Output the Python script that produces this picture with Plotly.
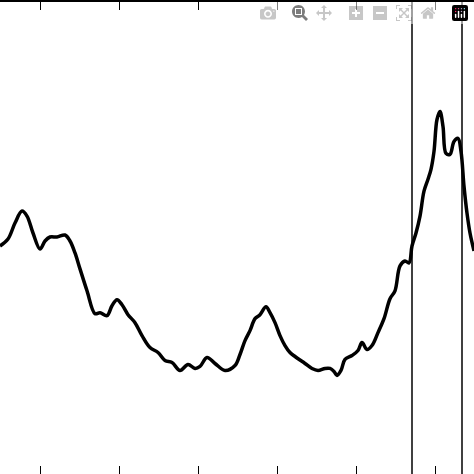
import plotly.graph_objects as go

xs = [0,8,15,22,27,33,40,45,50,57,65,70,75,80,87,95,100,107,112,117,122,128,135,142,150,158,165,172,180,188,195,200,207,215,225,235,240,245,250,255,260,266,270,275,280,285,290,295,305,312,318,325,330,334,337,341,345,352,358,362,367,372,378,384,390,395,400,405,409,412,416,420,424,428,431,434,437,440,443,446,450,454,458,461,464,467,470,474]
ys = [245,238,222,210,215,232,248,240,236,236,234,240,252,268,290,313,312,315,305,299,304,314,322,335,347,352,360,362,370,364,368,366,357,363,370,365,354,340,330,318,314,306,312,322,335,345,352,356,363,368,370,368,368,371,375,370,359,355,350,342,349,345,332,318,298,290,265,260,262,245,232,215,190,178,168,150,118,110,125,152,153,140,137,150,185,212,232,250]
vlines = [412, 462]

fig = go.Figure(go.Scatter(x=xs, y=[474-v for v in ys], mode="lines",
                           line=dict(color="black", width=3.5, shape="spline")))
for v in vlines:
    fig.add_vline(x=v, line=dict(color="black", width=1.5))
ax = dict(showgrid=False, zeroline=False, showticklabels=False)
fig.update_xaxes(range=[0,474], tickvals=[40,119,198,277,356,435], ticks="inside",
                 ticklen=8, tickwidth=1.2, tickcolor="black", showline=True,
                 linecolor="black", linewidth=1.5, mirror="ticks", **ax)
fig.update_yaxes(range=[0,474], showline=False, ticks="", **ax)
fig.update_layout(width=474, height=474, margin=dict(l=0,r=0,t=0,b=0),
                  plot_bgcolor="white", paper_bgcolor="white", showlegend=False)
fig.write_html("out.html", post_script="document.body.style.margin='0';document.body.style.overflow='hidden';")
